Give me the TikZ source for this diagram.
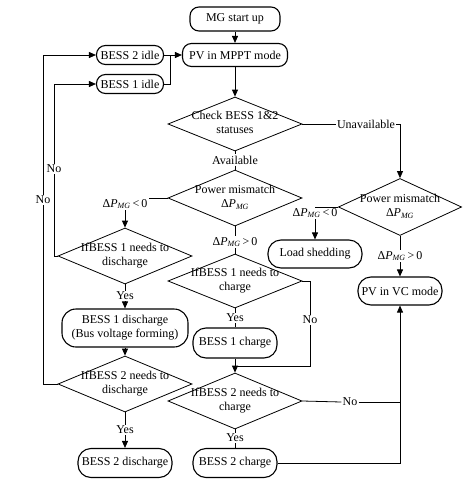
\documentclass[tikz,border=0pt]{standalone}
\usepackage{fontspec}
\setmainfont{Liberation Serif}
\usepackage{tikz}
\usetikzlibrary{arrows.meta,shapes.geometric,positioning,calc}

\newcommand{\dtext}[1]{\makebox[56pt]{\begin{tabular}{@{}c@{}}#1\end{tabular}}}
\newcommand{\dPmg}{Δ\textit{P}\textsubscript{\textit{MG}}}

\tikzset{
  proc/.style={rectangle, draw, line width=1.1pt, rounded corners=9pt, inner xsep=3pt, inner ysep=2pt, minimum height=20pt},
  bigproc/.style={proc, rounded corners=14pt, align=center},
  decision/.style={diamond, draw, line width=0.8pt, inner sep=0pt, aspect=2.4, minimum width=134pt, minimum height=56pt},
  lbl/.style={inner sep=1pt},
  arr/.style={-{Triangle[length=7pt,width=6pt]}}
}

\begin{document}
\begin{tikzpicture}[x=1pt, y=-1pt, line width=0.8pt, font=\fontsize{12}{14}\selectfont]
  \useasboundingbox (0,0) rectangle (474,480);

  % top
  \node[proc, minimum width=90pt, minimum height=24pt] (start) at (235,19) {MG start up};
  \node[proc, minimum width=105pt, minimum height=23pt] (mppt) at (235,55) {PV in MPPT mode};
  \node[proc, minimum width=67pt, minimum height=19pt] (idle2) at (130,55) {BESS 2 idle};
  \node[proc, minimum width=67pt, minimum height=19pt] (idle1) at (130,84) {BESS 1 idle};
  \coordinate (j1) at (170,55);
  \node[decision, minimum height=54pt] (chk) at (235,124) {\dtext{Check BESS 1\&2\\statuses}};
  \node[lbl] (avl) at (235,160) {Available};
  \node[lbl] (unav) at (366,124) {Unavailable};

  % left branch
  \node[decision] (pm1) at (235,198) {\dtext{Power mismatch\\\dPmg}};
  \node[lbl] (ltA) at (125,204) {\dPmg\,<\,0};
  \node[decision] (dis1) at (125,256) {\dtext{IfBESS 1 needs to\\discharge}};
  \node[lbl] (yesA) at (125,296) {Yes};
  \node[bigproc, minimum width=126pt, minimum height=38pt] (bdis1) at (125,328) {BESS 1 discharge\\(Bus voltage forming)};
  \node[decision] (dis2) at (125,384) {\dtext{IfBESS 2 needs to\\discharge}};
  \node[lbl] (yesB) at (125,430) {Yes};
  \node[proc, minimum width=94pt, minimum height=29pt, rounded corners=13pt] (bdis2) at (125,463) {BESS 2 discharge};
  \node[lbl] (noA) at (54,169) {No};
  \node[lbl] (noB) at (43,200) {No};

  % middle branch
  \node[lbl] (gtA) at (235,242) {\dPmg\,>\,0};
  \node[decision, minimum height=54pt] (chg1) at (235,281) {\dtext{IfBESS 1 needs to\\charge}};
  \node[lbl] (yesC) at (235,318) {Yes};
  \node[proc, minimum width=84pt, minimum height=30pt, rounded corners=13pt] (bchg1) at (235,343) {BESS 1 charge};
  \node[lbl] (noC) at (310,320) {No};
  \coordinate (j2) at (235,366);
  \node[decision] (chg2) at (235,401) {\dtext{IfBESS 2 needs to\\charge}};
  \node[lbl] (yesD) at (235,438) {Yes};
  \node[proc, minimum width=84pt, minimum height=29pt, rounded corners=13pt] (bchg2) at (235,463) {BESS 2 charge};
  \node[lbl] (noD) at (350,402) {No};

  % right branch
  \node[decision, minimum width=117pt, minimum height=57pt] (pm2) at (400,207) {\dtext{Power mismatch\\\dPmg}};
  \node[lbl] (ltB) at (315,213) {\dPmg\,<\,0};
  \node[proc, minimum width=94pt, minimum height=28pt, rounded corners=13pt] (shed) at (315,254) {Load shedding};
  \node[lbl] (gtB) at (400,256) {\dPmg\,>\,0};
  \node[proc, minimum width=84pt, minimum height=28pt, rounded corners=13pt] (vc) at (400,291) {PV in VC mode};

  % connectors
  \draw[arr] (start) -- (mppt);
  \draw[arr] (mppt) -- (chk);
  \draw[arr] (idle2) -- (mppt);
  \draw (idle1.east) -| (j1);
  \draw (chk.south) -- (avl.north);
  \draw (avl.south) -- (pm1.north);
  \draw (chk.east) -- (unav.west);
  \draw[arr] (unav.east) -| (pm2.north);

  \draw (pm1.west) -- (pm1.west -| ltA.east);
  \draw[arr] (ltA.south) -- (dis1.north);
  \draw (dis1.south) -- (yesA.north);
  \draw[arr] (yesA.south) -- (bdis1.north);
  \draw[arr] (bdis1.south) -- (dis2.north);
  \draw (dis2.south) -- (yesB.north);
  \draw[arr] (yesB.south) -- (bdis2.north);
  \draw (dis1.west) -| (noA.south);
  \draw[arr] (noA.north) |- (idle1.west);
  \draw (dis2.west) -| (noB.south);
  \draw[arr] (noB.north) |- (idle2.west);

  \draw (pm1.south) -- (gtA.north);
  \draw (gtA.south) -- (chg1.north);
  \draw (chg1.south) -- (yesC.north);
  \draw (yesC.south) -- (bchg1.north);
  \draw[arr] (bchg1.south) -- (chg2.north);
  \draw (chg1.east) -| (noC.north);
  \draw (noC.south) |- (j2);
  \draw (chg2.south) -- (yesD.north);
  \draw (yesD.south) -- (bchg2.north);
  \draw (chg2.east) -- (noD.west);
  \draw (noD.east) -- (noD.east -| vc.south);
  \draw[arr] (bchg2.east) -| (vc.south);

  \draw (pm2.west) -| (ltB.north);
  \draw[arr] (ltB.south) -- (shed.north);
  \draw (pm2.south) -- (gtB.north);
  \draw[arr] (gtB.south) -- (vc.north);
\end{tikzpicture}
\end{document}
